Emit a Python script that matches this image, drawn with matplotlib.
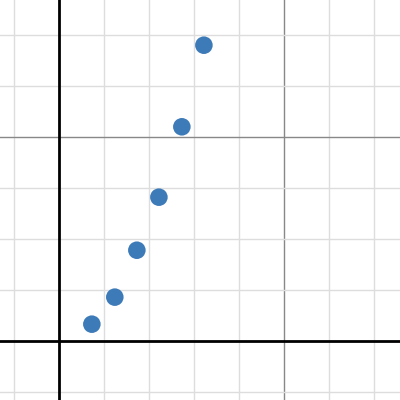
import matplotlib
matplotlib.use("Agg")
import matplotlib.pyplot as plt
import numpy as np

xs = [0.73, 1.24, 1.73, 2.22, 2.73, 3.22]
ys = [0.33, 0.86, 1.78, 2.82, 4.20, 5.80]

fig = plt.figure(figsize=(4, 4), dpi=100)
ax = fig.add_axes([0, 0, 1, 1])
ax.set_xlim(-59/45, 341/45)
ax.set_ylim(-59/51, 341/51)
for v in range(-1, 8):
    major = v % 5 == 0 and v != 0
    if v != 0:
        ax.axvline(v, color='#888888' if major else '#dddddd', lw=1.0, zorder=0)
for v in range(-1, 7):
    major = v % 4 == 0 and v != 0
    if v != 0:
        ax.axhline(v, color='#888888' if major else '#dddddd', lw=1.0, zorder=0)
ax.axvline(0, color='black', lw=2, zorder=1)
ax.axhline(0, color='black', lw=2, zorder=1)
ax.scatter(xs, ys, s=160, color='#3d7ab8', zorder=3, edgecolors='none')
ax.axis('off')
fig.savefig('out.png', dpi=100)
